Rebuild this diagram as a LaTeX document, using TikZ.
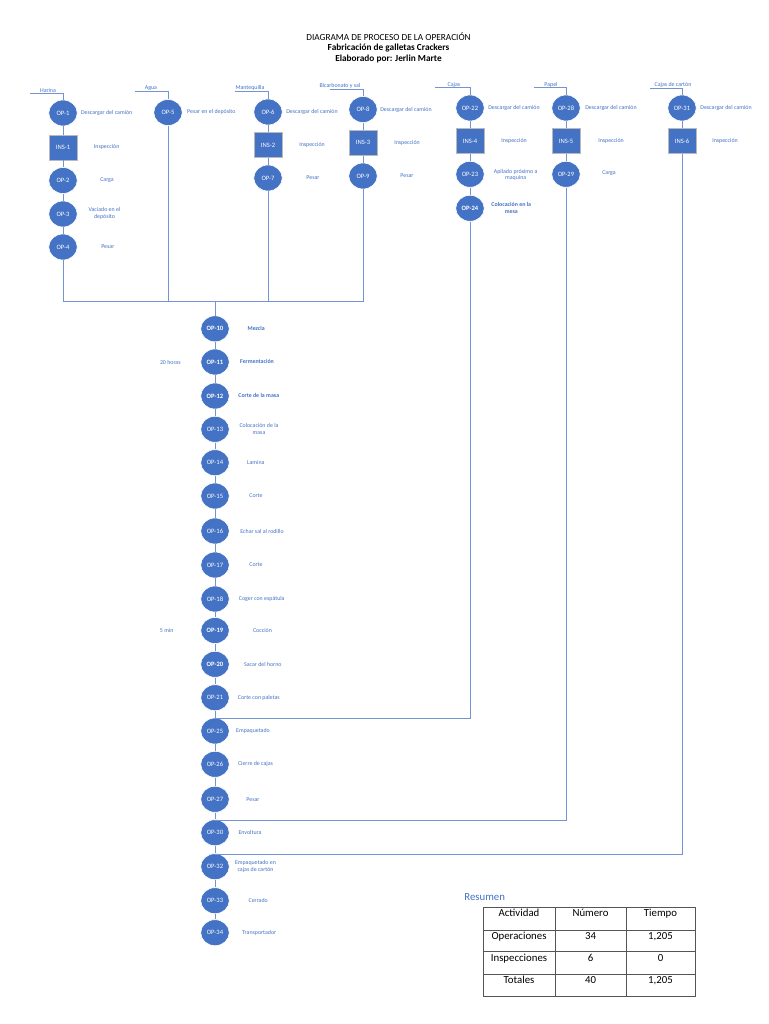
\documentclass[tikz,border=0pt]{standalone}
\usepackage{fontspec}
\setmainfont{Carlito}
\usetikzlibrary{shapes.geometric}
\definecolor{ofblue}{HTML}{4472C4}
\definecolor{lnblue}{HTML}{7394D4}
\definecolor{tbgray}{HTML}{555555}
\tikzset{
  opnode/.style={ellipse, fill=ofblue, draw=white, line width=0.6pt, minimum width=28.5pt, minimum height=26pt, inner sep=0pt, text=white, font=\fontsize{6.6}{7}\selectfont},
  insnode/.style={rectangle, fill=ofblue, draw=gray!55, line width=0.7pt, minimum width=28pt, minimum height=25pt, inner sep=0pt, text=white, font=\fontsize{6.6}{7}\selectfont},
  lbl/.style={text=ofblue, font=\fontsize{5.9}{6.7}\selectfont, align=center, inner sep=0pt},
  conn/.style={draw=lnblue, line width=0.8pt},
  cell/.style={text=black, font=\fontsize{10.8}{12}\selectfont, inner sep=0pt, text height=7.6pt, text depth=2.4pt},
}
\begin{document}
\begin{tikzpicture}[x=1pt,y=-1pt]
\useasboundingbox (0,0) rectangle (768,1024);
\fill[white] (0,0) rectangle (768,1024);

% title
\node[font=\fontsize{9.3}{10.5}\selectfont, align=center, inner sep=0pt] (title) at (388.5,47.7)
  {DIAGRAMA DE PROCESO DE LA OPERACIÓN\\\textbf{Fabricación de galletas Crackers}\\\textbf{Elaborado por: Jerlin Marte}};

% ---------- Harina ----------
\node[lbl] (lharina) at (48,90) {Harina};
\coordinate (sharina) at (30,93.3);
\node[opnode] (op1) at (63,113) {OP-1};
\node[insnode] (ins1) at (63,147.5) {INS-1};
\node[opnode] (op2) at (63,180.5) {OP-2};
\node[opnode] (op3) at (63,214) {OP-3};
\node[opnode] (op4) at (63,247) {OP-4};
\node[lbl] (t1) at (106.7,113) {Descargar del camión};
\node[lbl] (ti1) at (106.7,146.7) {Inspección};
\node[lbl] (t2) at (107,180.5) {Carga};
\node[lbl] (t3) at (104.5,213.5) {Vaciado en el\\depósito};
\node[lbl] (t4) at (107.8,246.7) {Pesar};

% ---------- Agua ----------
\node[lbl] (lagua) at (151,88) {Agua};
\coordinate (sagua) at (135,91.7);
\node[opnode] (op5) at (168,112.5) {OP-5};
\node[lbl] (t5) at (211.3,112) {Pesar en el depósito};

% ---------- Mantequilla ----------
\node[lbl] (lmant) at (250,87.5) {Mantequilla};
\coordinate (smant) at (235,91.7);
\node[opnode] (op6) at (268,112) {OP-6};
\node[insnode] (ins2) at (268,145) {INS-2};
\node[opnode] (op7) at (268,178) {OP-7};
\node[lbl] (t6) at (312,112) {Descargar del camión};
\node[lbl] (ti2) at (312,145) {Inspección};
\node[lbl] (t7) at (313,178) {Pesar};

% ---------- Bicarbonato y sal ----------
\node[lbl] (lbic) at (340,86) {Bicarbonato y sal};
\coordinate (sbic) at (330,89.3);
\node[opnode] (op8) at (363,109.5) {OP-8};
\node[insnode] (ins3) at (363,142.7) {INS-3};
\node[opnode] (op9) at (363,176) {OP-9};
\node[lbl] (t8) at (406,109.5) {Descargar del camión};
\node[lbl] (ti3) at (407,142.7) {Inspección};
\node[lbl] (t9) at (407,176) {Pesar};

% ---------- Cajas ----------
\node[lbl] (lcajas) at (454,84.5) {Cajas};
\coordinate (scajas) at (435,87.7);
\node[opnode] (op22) at (470,108) {OP-22};
\node[insnode] (ins4) at (470,141) {INS-4};
\node[opnode] (op23) at (470,174.3) {OP-23};
\node[opnode, font=\fontsize{6.6}{7}\selectfont\bfseries] (op24) at (470,208.3) {OP-24};
\node[lbl] (t22) at (514,108) {Descargar del camión};
\node[lbl] (ti4) at (514,141) {Inspección};
\node[lbl] (t23) at (515.7,174.8) {Apilado próximo a\\maquina};
\node[lbl, font=\fontsize{5.9}{6.7}\selectfont\bfseries] (t24) at (511.3,207.7) {Colocación en la\\mesa};

% ---------- Papel ----------
\node[lbl] (lpapel) at (551,84.5) {Papel};
\coordinate (spapel) at (534,87.7);
\node[opnode] (op28) at (566,108) {OP-28};
\node[insnode] (ins5) at (566,141) {INS-5};
\node[opnode] (op29) at (566,174.3) {OP-29};
\node[lbl] (t28) at (611,108) {Descargar del camión};
\node[lbl] (ti5) at (611,141) {Inspección};
\node[lbl] (t29) at (609,173.5) {Carga};

% ---------- Cajas de cartón ----------
\node[lbl] (lcarton) at (673,84.5) {Cajas de cartón};
\coordinate (scarton) at (650,88.3);
\node[opnode] (op31) at (682,108) {OP-31};
\node[insnode] (ins6) at (682,141) {INS-6};
\node[lbl] (t31) at (726,108) {Descargar del camión};
\node[lbl] (ti6) at (725,141) {Inspección};

% ---------- main column ----------
\coordinate (jmain) at (215,301.5);
\node[opnode, font=\fontsize{6.6}{7}\selectfont\bfseries] (op10) at (215,328.8) {OP-10};
\node[opnode, font=\fontsize{6.6}{7}\selectfont\bfseries] (op11) at (215,362) {OP-11};
\node[opnode, font=\fontsize{6.6}{7}\selectfont\bfseries] (op12) at (215,396) {OP-12};
\node[opnode] (op13) at (215,429.3) {OP-13};
\node[opnode] (op14) at (215,462.7) {OP-14};
\node[opnode] (op15) at (215,496) {OP-15};
\node[opnode] (op16) at (215,531) {OP-16};
\node[opnode] (op17) at (215,565) {OP-17};
\node[opnode] (op18) at (215,599) {OP-18};
\node[opnode, font=\fontsize{6.6}{7}\selectfont\bfseries] (op19) at (215,630.5) {OP-19};
\node[opnode, font=\fontsize{6.6}{7}\selectfont\bfseries] (op20) at (215,664.3) {OP-20};
\node[opnode] (op21) at (215,697.7) {OP-21};
\node[opnode] (op25) at (215,731) {OP-25};
\node[opnode] (op26) at (215,764.3) {OP-26};
\node[opnode] (op27) at (215,799.3) {OP-27};
\node[opnode] (op30) at (215,832.7) {OP-30};
\node[opnode] (op32) at (215,866.7) {OP-32};
\node[opnode] (op33) at (215,900.7) {OP-33};
\node[opnode] (op34) at (215,932.7) {OP-34};

\node[lbl, font=\fontsize{5.9}{6.7}\selectfont\bfseries] (t10) at (256.2,328.8) {Mezcla};
\node[lbl, font=\fontsize{5.9}{6.7}\selectfont\bfseries] (t11) at (257,361.7) {Fermentación};
\node[lbl, font=\fontsize{5.9}{6.7}\selectfont\bfseries] (t12) at (258.8,395) {Corte de la masa};
\node[lbl] (t13) at (259,428.7) {Colocación de la\\masa};
\node[lbl] (t14) at (255.8,462.7) {Lamina};
\node[lbl] (t15) at (256,496) {Corte};
\node[lbl] (t16) at (262,531) {Echar sal al rodillo};
\node[lbl] (t17) at (256,564.5) {Corte};
\node[lbl] (t18) at (261.7,599) {Coger con espátula};
\node[lbl] (t19) at (262.5,630) {Cocción};
\node[lbl] (t20) at (262.8,664.3) {Sacar del horno};
\node[lbl] (t21) at (258.8,697.7) {Corte con paletas};
\node[lbl] (t25) at (253,731) {Empaquetado};
\node[lbl] (t26) at (255.5,764.3) {Cierre de cajas};
\node[lbl] (t27) at (253,799.3) {Pesar};
\node[lbl] (t30) at (250,832.7) {Envoltura};
\node[lbl] (t32) at (255.5,866.7) {Empaquetado en\\cajas de cartón};
\node[lbl] (t33) at (258.2,900.7) {Cerrado};
\node[lbl] (t34) at (259.2,932.7) {Transportador};

\node[lbl] (n20h) at (170.3,362) {20 horas};
\node[lbl] (n5m) at (166.7,630.5) {5 min};

% ---------- connectors ----------
\draw[conn] (sharina) -| (op1);
\draw[conn] (op1) -- (ins1) -- (op2) -- (op3) -- (op4);
\draw[conn] (sagua) -| (op5);
\draw[conn] (smant) -| (op6);
\draw[conn] (op6) -- (ins2) -- (op7);
\draw[conn] (sbic) -| (op8);
\draw[conn] (op8) -- (ins3) -- (op9);
\draw[conn] (scajas) -| (op22);
\draw[conn] (op22) -- (ins4) -- (op23) -- (op24);
\draw[conn] (spapel) -| (op28);
\draw[conn] (op28) -- (ins5) -- (op29);
\draw[conn] (scarton) -| (op31);
\draw[conn] (op31) -- (ins6);

\draw[conn] (op4) |- (jmain);
\draw[conn] (op5) |- (jmain);
\draw[conn] (op7) |- (jmain);
\draw[conn] (op9) |- (jmain);
\draw[conn] (jmain) -- (op10);

\draw[conn] (op10) -- (op11) -- (op12) -- (op13) -- (op14) -- (op15) -- (op16) -- (op17) -- (op18) -- (op19) -- (op20) -- (op21) -- (op25) -- (op26) -- (op27) -- (op30) -- (op32) -- (op33) -- (op34);

\coordinate (jcajas) at (215,718.3);
\coordinate (jpapel) at (215,820.5);
\coordinate (jcarton) at (215,854.5);
\draw[conn] (op24) |- (jcajas);
\draw[conn] (op29) |- (jpapel);
\draw[conn] (ins6) |- (jcarton);

% ---------- summary table ----------
\node[text=ofblue, font=\fontsize{10.8}{12}\selectfont, inner sep=0pt] (resumen) at (484.7,896.7) {Resumen};
\draw[tbgray, line width=0.8pt] (483,907.7) rectangle (695,996.7);
\draw[tbgray, line width=0.6pt] (555,907.7) -- (555,996.7) (626,907.7) -- (626,996.7)
  (483,930) -- (695,930) (483,951.7) -- (695,951.7) (483,974) -- (695,974);
\node[cell] (h1) at (519,913.5) {Actividad};
\node[cell] (h2) at (590.5,913.5) {Número};
\node[cell] (h3) at (660.5,913.5) {Tiempo};
\node[cell] (r11) at (519,936.7) {Operaciones};
\node[cell] (r12) at (590.5,936.7) {34};
\node[cell] (r13) at (660.5,936.7) {1,205};
\node[cell] (r21) at (519,959.3) {Inspecciones};
\node[cell] (r22) at (590.5,959.3) {6};
\node[cell] (r23) at (660.5,959.3) {0};
\node[cell] (r31) at (519,980.7) {Totales};
\node[cell] (r32) at (590.5,980.7) {40};
\node[cell] (r33) at (660.5,980.7) {1,205};
\end{tikzpicture}
\end{document}
